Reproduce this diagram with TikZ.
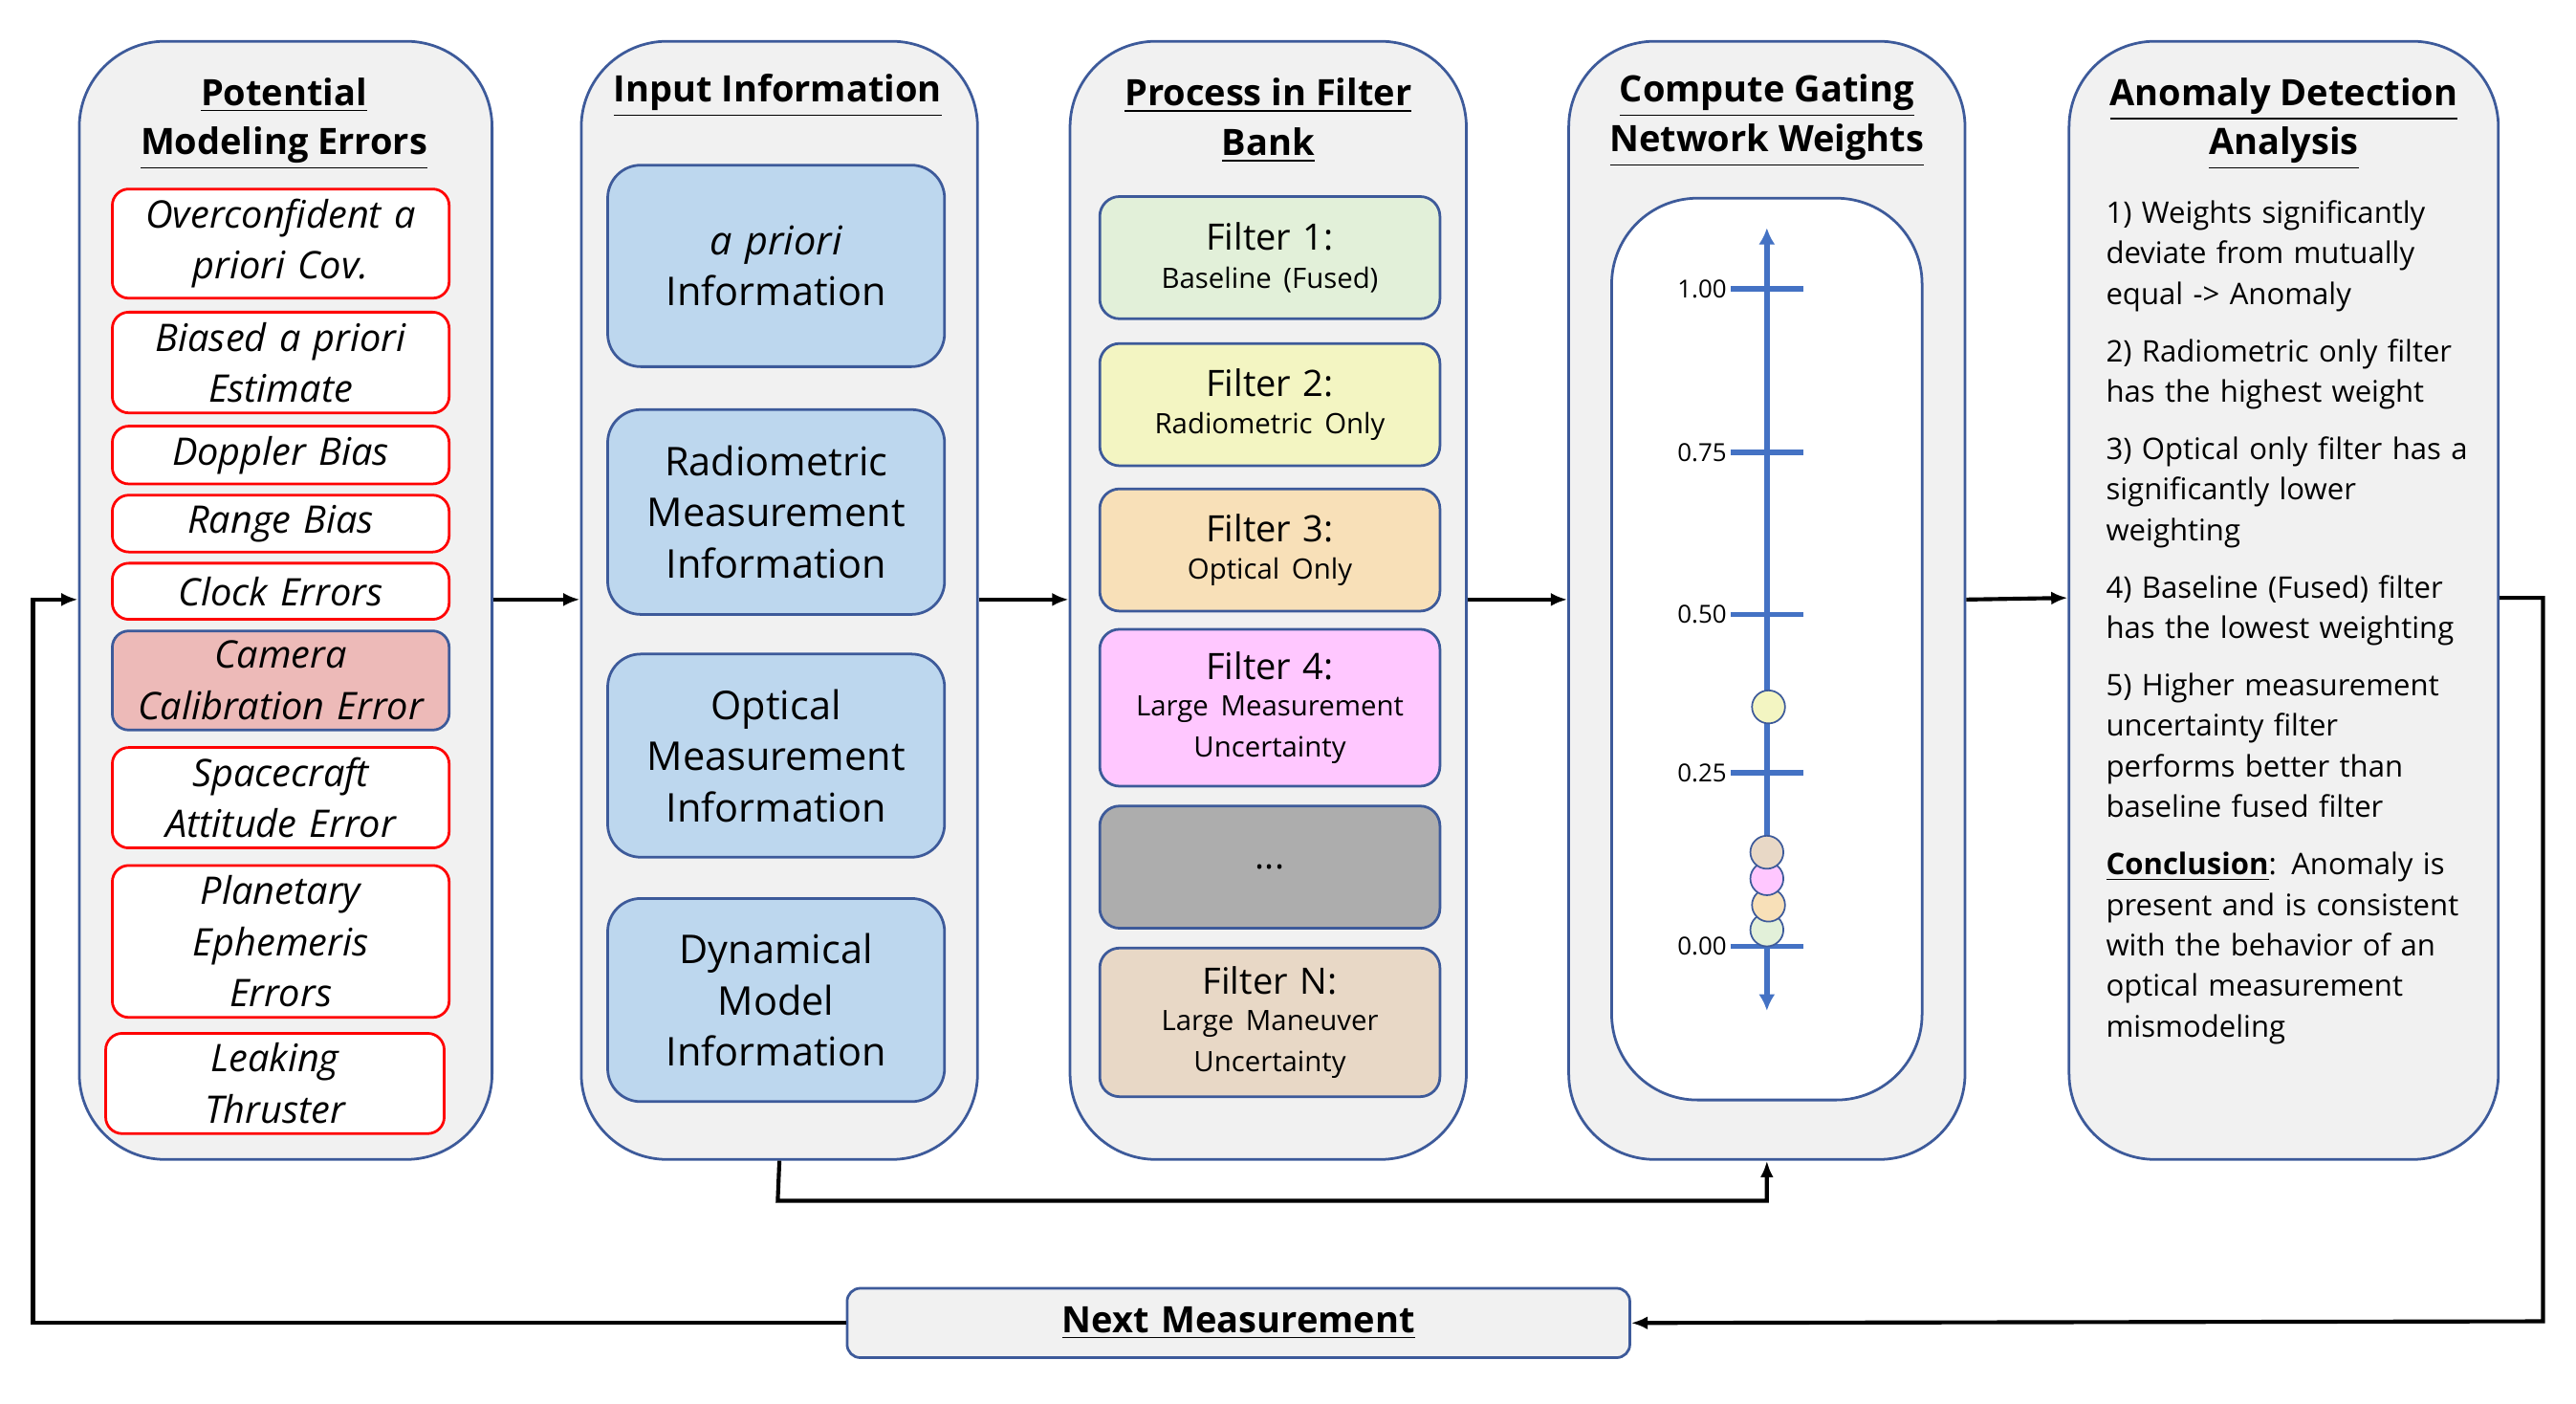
\documentclass[tikz,border=0pt]{standalone}
\usepackage{fontspec}
\setmainfont{Open Sans}
\usetikzlibrary{arrows.meta}
\definecolor{bord}{HTML}{3D5A9A}
\definecolor{panel}{HTML}{F1F1F1}
\definecolor{bluebox}{HTML}{BDD7EE}
\definecolor{axisblue}{HTML}{4472C4}
\definecolor{redb}{HTML}{FF0000}
\definecolor{camfill}{HTML}{EDBAB8}
\definecolor{f1}{HTML}{E2F0D9}
\definecolor{f2}{HTML}{F3F5C2}
\definecolor{f3}{HTML}{F8E0B8}
\definecolor{f4}{HTML}{FFC7FF}
\definecolor{f5}{HTML}{ADADAD}
\definecolor{f6}{HTML}{E8D8C6}
\newcommand\bx[7]{\node[#6, minimum width={(#4-#2)*0.5pt}, minimum height={(#5-#3)*0.5pt}, text width={(#4-#2-12)*0.5pt}, inner sep=3pt, align=center] (#1) at ({(#2+#4)/2},{(#3+#5)/2}) {#7};}
\tikzset{
  panelst/.style={draw=bord, line width=0.8pt, fill=panel, rounded corners=26pt},
  errst/.style={draw=redb, line width=0.8pt, fill=white, rounded corners=5pt, font=\fontsize{11.5}{15.5}\selectfont\itshape},
  infost/.style={draw=bord, line width=0.8pt, fill=bluebox, rounded corners=10pt, font=\fontsize{12}{15.5}\selectfont},
  filt/.style={draw=bord, line width=0.8pt, fill=#1, rounded corners=6pt, font=\fontsize{11}{12.5}\selectfont},
  ttl/.style={font=\fontsize{11}{15}\selectfont\bfseries, align=center},
  arr/.style={line width=1.2pt, -{Latex[length=5pt,width=4pt]}},
  dot/.style={circle, draw=bord, line width=0.5pt, minimum size=10pt, inner sep=0pt, fill=#1},
}
\newcommand\sub[1]{\\[-1pt]{\fontsize{8.5}{12}\selectfont #1}}
\begin{document}
\begin{tikzpicture}[x=0.5pt,y=-0.5pt]
\useasboundingbox (0,0) rectangle (1560,849.5);
% panels
\bx{p1}{48}{25}{298}{702}{panelst}{}
\bx{p2}{352}{25}{592}{702}{panelst}{}
\bx{p3}{648}{25}{888}{702}{panelst}{}
\bx{p4}{950}{25}{1190}{702}{panelst}{}
\bx{p5}{1253}{25}{1513}{702}{panelst}{}
% titles
\node[ttl] (t1) at (172,75) {\underline{Potential}\\\underline{Modeling Errors}};
\node[ttl] (t2) at (471,58) {\underline{Input Information}};
\node[ttl] (t3) at (768,73) {\underline{Process in Filter}\\\underline{Bank}};
\node[ttl] (t4) at (1070,73) {\underline{Compute Gating}\\\underline{Network Weights}};
\node[ttl] (t5) at (1383,75) {\underline{Anomaly Detection}\\\underline{Analysis}};
% errors
\bx{e1}{68}{117}{272}{178}{errst}{Overconfident a\\priori Cov.}
\bx{e2}{68}{189}{272}{250}{errst}{Biased a priori\\Estimate}
\bx{e3}{68}{259}{272}{292}{errst}{Doppler Bias}
\bx{e4}{68}{301}{272}{333}{errst}{Range Bias}
\bx{e5}{68}{341}{272}{375}{errst}{Clock Errors}
\bx{e6}{68}{382}{272}{442}{errst,draw=bord,fill=camfill}{Camera\\Calibration Error}
\bx{e7}{68}{453}{272}{513}{errst}{Spacecraft\\Attitude Error}
\bx{e8}{68}{524}{272}{616}{errst}{Planetary\\Ephemeris\\Errors}
\bx{e9}{64}{626}{269}{686}{errst}{Leaking\\Thruster}
% info
\bx{i1}{368}{100}{572}{222}{infost}{\textit{a priori}\\Information}
\bx{i2}{368}{248}{572}{372}{infost}{Radiometric\\Measurement\\Information}
\bx{i3}{368}{396}{572}{519}{infost}{Optical\\Measurement\\Information}
\bx{i4}{368}{544}{572}{667}{infost}{Dynamical\\Model\\Information}
% filters
\bx{g1}{666}{119}{872}{193}{filt=f1}{Filter 1:\sub{Baseline (Fused)}}
\bx{g2}{666}{208}{872}{282}{filt=f2}{Filter 2:\sub{Radiometric Only}}
\bx{g3}{666}{296}{872}{370}{filt=f3}{Filter 3:\sub{Optical Only}}
\bx{g4}{666}{381}{872}{476}{filt=f4}{Filter 4:\sub{Large Measurement\\Uncertainty}}
\bx{g5}{666}{488}{872}{562}{filt=f5}{...}
\bx{g6}{666}{574}{872}{664}{filt=f6}{Filter N:\sub{Large Maneuver\\Uncertainty}}
% gating plot
\bx{w}{976}{120}{1164}{666}{draw=bord,line width=0.8pt,fill=white,rounded corners=26pt}{}
\coordinate (ab) at (1070,612);
\coordinate (at) at (1070,138);
\draw[axisblue, line width=1.6pt, {Latex[length=5pt,width=5pt]}-{Latex[length=5pt,width=5pt]}] (ab) -- (at);
\foreach \yy/\lab [count=\k] in {175/1.00,274/0.75,372/0.50,468/0.25,573/0.00}{
  \coordinate (tl\k) at (1048,\yy);
  \coordinate (tr\k) at (1092,\yy);
  \draw[axisblue, line width=1.6pt] (tl\k) -- (tr\k);
  \node[anchor=east, inner sep=1pt, font=\fontsize{7.5}{8}\selectfont] (lb\k) at (tl\k) {\lab};
}
\node[dot=f2] (d2) at (1071,428) {};
\node[dot=f1] (d1) at (1070,563) {};
\node[dot=f3] (d3) at (1071,548) {};
\node[dot=f4] (d4) at (1070,532) {};
\node[dot=f6] (d6) at (1070,516) {};
% analysis text
\node[anchor=north west, text width=125pt, inner sep=0pt, align=left, font=\fontsize{9}{12.3}\selectfont] (txt) at (1275,121) {%
1) Weights significantly\\deviate from mutually\\equal -> Anomaly\par\vspace{5pt}
2) Radiometric only filter\\has the highest weight\par\vspace{5pt}
3) Optical only filter has a\\significantly lower\\weighting\par\vspace{5pt}
4) Baseline (Fused) filter\\has the lowest weighting\par\vspace{5pt}
5) Higher measurement\\uncertainty filter\\performs better than\\baseline fused filter\par\vspace{5pt}
\underline{\textbf{Conclusion}}: Anomaly is\\present and is consistent\\with the behavior of an\\optical measurement\\mismodeling};
% next measurement
\bx{nm}{513}{780}{987}{822}{draw=bord,line width=0.8pt,fill=panel,rounded corners=4pt,font=\fontsize{11}{12}\selectfont\bfseries}{\underline{Next Measurement}}
% connectors
\draw[arr] (p1.east|-0,363) -- (p2.west|-0,363);
\draw[arr] (p2.east|-0,363) -- (p3.west|-0,363);
\draw[arr] (p3.east|-0,363) -- (p4.west|-0,363);
\draw[arr] (p4.east|-0,363) -- (p5.west|-0,362);
\draw[arr] (p5.east|-0,362) -| (1540,800) -- (nm.east);
\draw[arr] (nm.west) -| (20,363) -- (p1.west|-0,363);
\draw[arr] (p2.south) -- (471,727) -| (p4.south);
\end{tikzpicture}
\end{document}
